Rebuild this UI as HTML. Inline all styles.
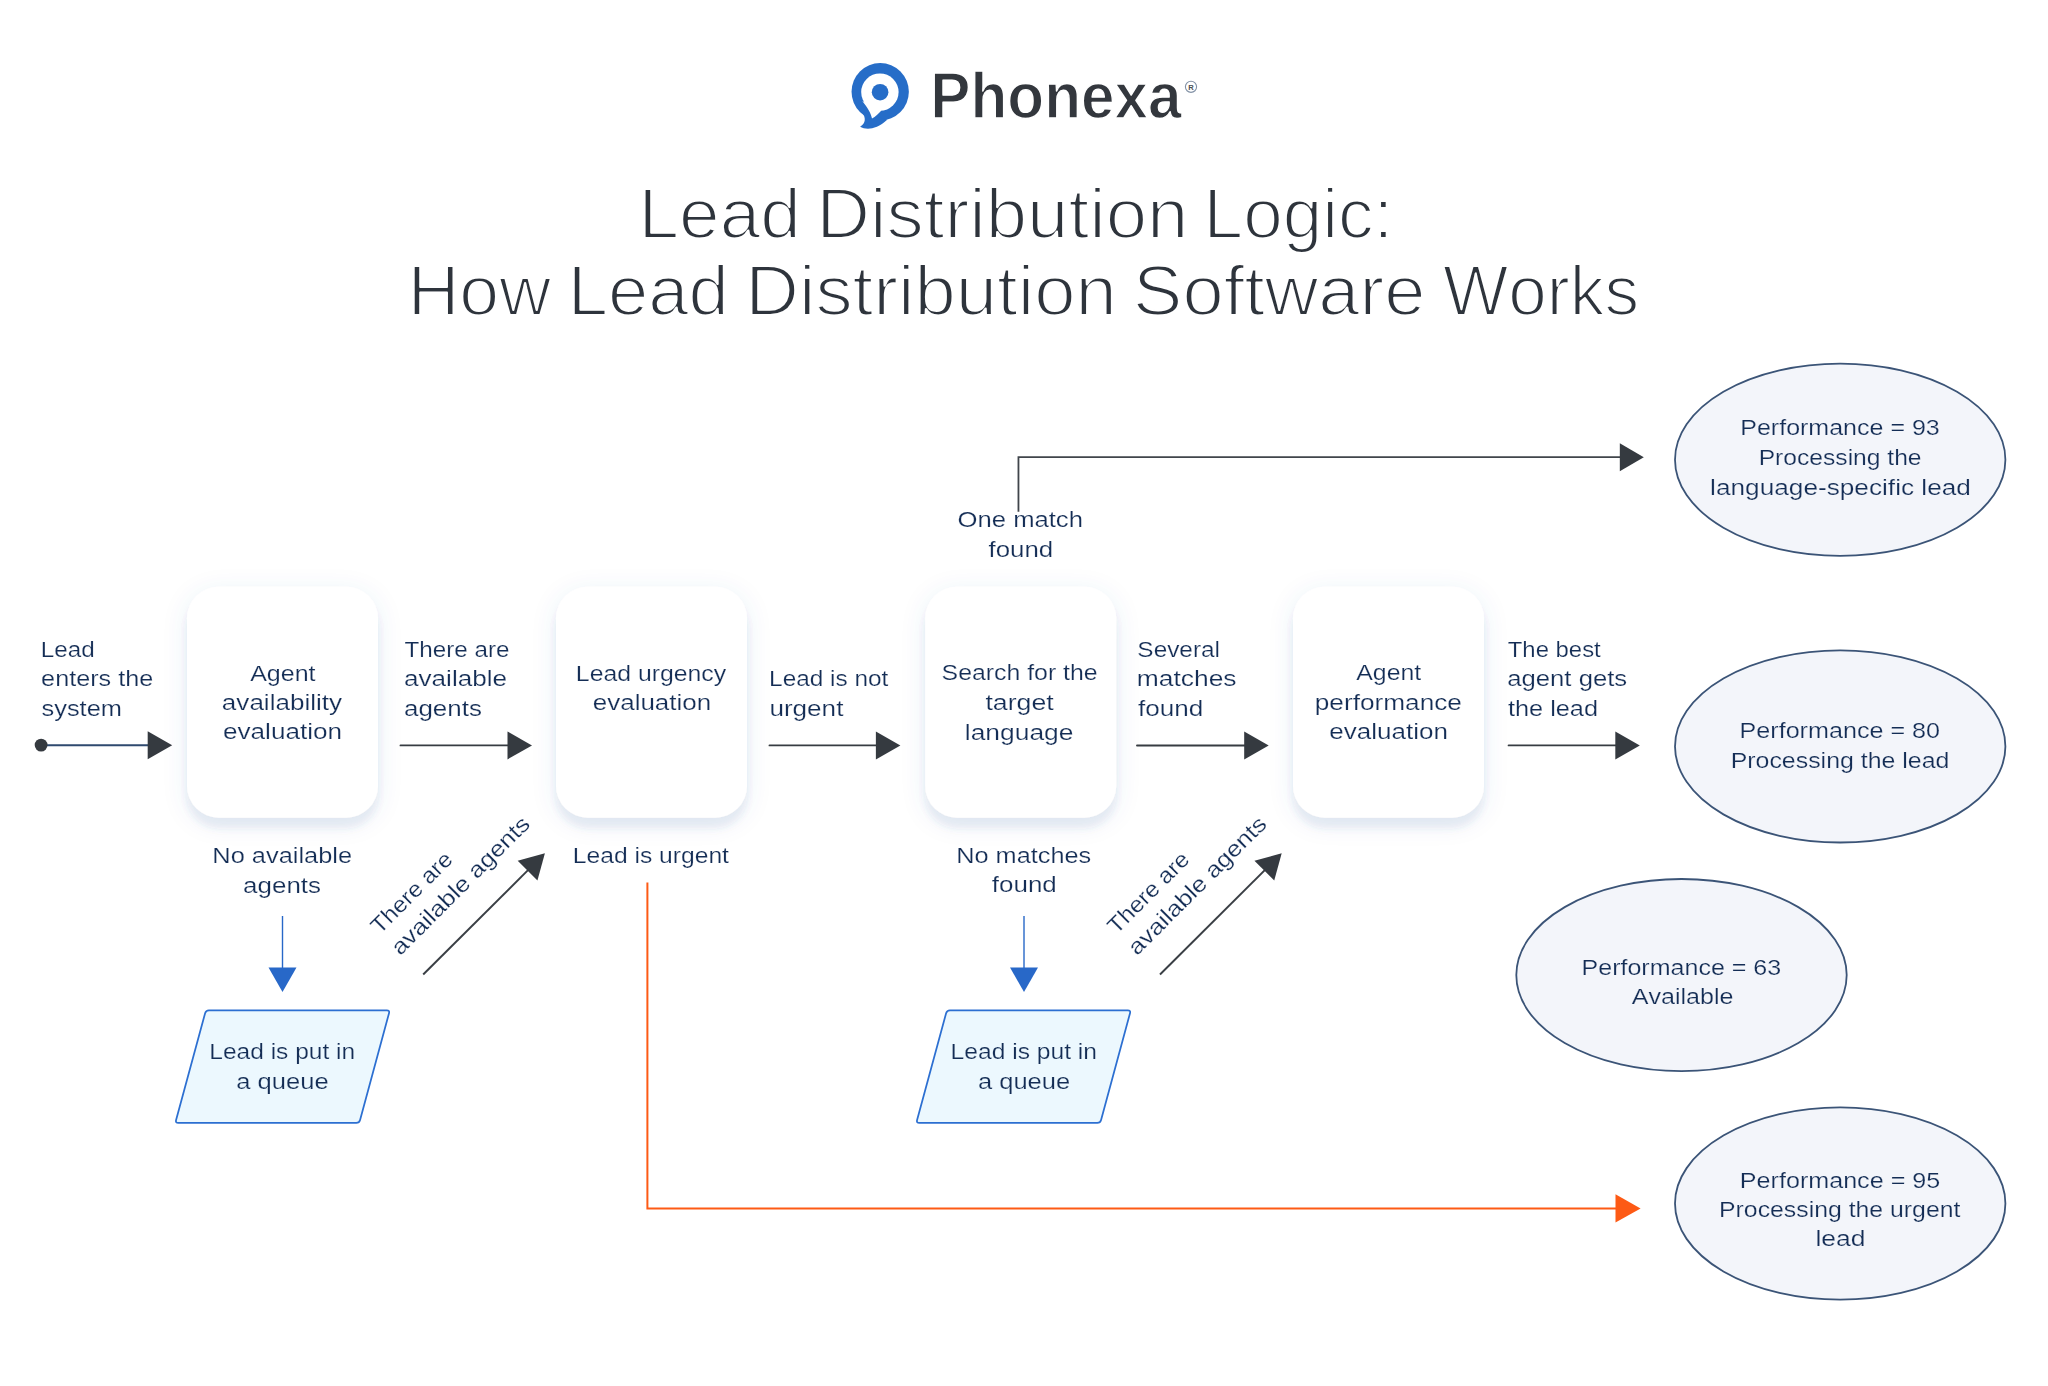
<!DOCTYPE html>
<html><head><meta charset="utf-8"><style>
html,body{margin:0;padding:0;background:#fff;}
svg{display:block;font-family:"Liberation Sans",sans-serif;font-kerning:none;}
</style></head><body>
<svg width="2048" height="1386" viewBox="0 0 2048 1386">
<defs><filter id="sh" x="-50%" y="-50%" width="200%" height="200%">
<feGaussianBlur in="SourceAlpha" stdDeviation="3" result="b1"/>
<feOffset in="b1" dy="11" result="o1"/>
<feFlood flood-color="#3d6aa6" flood-opacity="0.085"/>
<feComposite in2="o1" operator="in" result="s1"/>
<feGaussianBlur in="SourceAlpha" stdDeviation="12" result="b2"/>
<feOffset in="b2" dy="5" result="o2"/>
<feFlood flood-color="#3d6aa6" flood-opacity="0.10"/>
<feComposite in2="o2" operator="in" result="s2"/>
<feMerge><feMergeNode in="s2"/><feMergeNode in="s1"/><feMergeNode in="SourceGraphic"/></feMerge>
</filter></defs>
<rect width="2048" height="1386" fill="#ffffff"/>
<g>
<circle cx="880.2" cy="91.75" r="28.65" fill="#266dc8"/>
<path d="M862,112 C866,118 866,123 860.1,126.7 C866,130 876,130 887.2,119.7 Z" fill="#266dc8"/>
<circle cx="879.9" cy="92.1" r="18.7" fill="#fff"/>
<path d="M862.3,101 C867.5,107.5 871,113 872,118.6 C875.5,117 878.5,113.5 881.5,110.6 Z" fill="#fff"/>
<circle cx="880.1" cy="92.2" r="8.3" fill="#266dc8"/>
<circle cx="1191" cy="86.8" r="5.6" fill="none" stroke="#8392a6" stroke-width="1.1"/>
<text x="1191" y="89.6" font-size="7.6" font-weight="bold" fill="#4a5058" text-anchor="middle">R</text>
</g>
<rect x="187" y="586.7" width="191" height="231" rx="32" ry="32" fill="#ffffff" filter="url(#sh)"/>
<rect x="556" y="586.7" width="191" height="231" rx="32" ry="32" fill="#ffffff" filter="url(#sh)"/>
<rect x="925.2" y="586.7" width="191" height="231" rx="32" ry="32" fill="#ffffff" filter="url(#sh)"/>
<rect x="1293" y="586.7" width="191" height="231" rx="32" ry="32" fill="#ffffff" filter="url(#sh)"/>
<line x1="41" y1="745.3" x2="148.7" y2="745.3" stroke="#2f4a6f" stroke-width="2" stroke-linecap="round"/><polygon points="147.7,731.3 172.2,745.3 147.7,759.3" fill="#353a40"/>
<circle cx="41.1" cy="745.1" r="6.4" fill="#353a40"/>
<line x1="400.5" y1="745.4" x2="508.5" y2="745.4" stroke="#373c42" stroke-width="1.9" stroke-linecap="round"/><polygon points="507.5,731.4 532,745.4 507.5,759.4" fill="#353a40"/>
<line x1="769.5" y1="745.4" x2="876.9" y2="745.4" stroke="#373c42" stroke-width="1.9" stroke-linecap="round"/><polygon points="875.9,731.4 900.4,745.4 875.9,759.4" fill="#353a40"/>
<line x1="1137" y1="745.5" x2="1245.2" y2="745.5" stroke="#373c42" stroke-width="1.9" stroke-linecap="round"/><polygon points="1244.2,731.5 1268.7,745.5 1244.2,759.5" fill="#353a40"/>
<line x1="1508.6" y1="745.4" x2="1616.3" y2="745.4" stroke="#373c42" stroke-width="1.9" stroke-linecap="round"/><polygon points="1615.3,731.4 1639.8,745.4 1615.3,759.4" fill="#353a40"/>
<polyline points="1018.46,511.7 1018.46,457.1 1621,457.1" fill="none" stroke="#40454b" stroke-width="1.8"/>
<polygon points="1619.8,443.3 1643.8,457.2 1619.8,471.2" fill="#353a40"/>
<polyline points="647.4,882.5 647.4,1208.5 1617,1208.5" fill="none" stroke="#fd5a15" stroke-width="2"/>
<polygon points="1615.5,1194.3 1640.6,1208.5 1615.5,1222.6" fill="#fd5a15"/>
<line x1="282.5" y1="916" x2="282.5" y2="969" stroke="#2868c8" stroke-width="1.4"/>
<polygon points="268.5,967.6 296.5,967.6 282.5,991.9" fill="#2868c8"/>
<line x1="1024" y1="916" x2="1024" y2="969" stroke="#2868c8" stroke-width="1.4"/>
<polygon points="1010,967.6 1038,967.6 1024,991.9" fill="#2868c8"/>
<path d="M205.11,1013.20 Q205.90,1010.30 208.90,1010.30 L386.80,1010.30 Q389.80,1010.30 389.02,1013.20 L360.08,1120.00 Q359.30,1122.90 356.30,1122.90 L178.30,1122.90 Q175.30,1122.90 176.09,1120.00 Z" fill="#ecf8fe" stroke="#2c6fd1" stroke-width="1.75"/>
<path d="M946.11,1013.20 Q946.90,1010.30 949.90,1010.30 L1127.80,1010.30 Q1130.80,1010.30 1130.02,1013.20 L1101.08,1120.00 Q1100.30,1122.90 1097.30,1122.90 L919.30,1122.90 Q916.30,1122.90 917.09,1120.00 Z" fill="#ecf8fe" stroke="#2c6fd1" stroke-width="1.75"/>
<line x1="423.2" y1="974.5" x2="528.2488204661583" y2="869.8827687715825" stroke="#3a3f45" stroke-width="2"/>
<polygon points="537.42,880.51 544.9,853.3 517.66,860.67" fill="#353a40"/>
<line x1="1160.0" y1="974.5" x2="1265.0488204661583" y2="869.8827687715826" stroke="#3a3f45" stroke-width="2"/>
<polygon points="1274.22,880.51 1281.6999999999998,853.3 1254.46,860.67" fill="#353a40"/>
<ellipse cx="1840.2" cy="459.7" rx="165.2" ry="96.1" fill="#f3f5fa" stroke="#3b5477" stroke-width="1.8"/>
<ellipse cx="1840.2" cy="746.4" rx="165.2" ry="96.1" fill="#f3f5fa" stroke="#3b5477" stroke-width="1.8"/>
<ellipse cx="1681.5" cy="975.1" rx="165.2" ry="96.1" fill="#f3f5fa" stroke="#3b5477" stroke-width="1.8"/>
<ellipse cx="1840.2" cy="1203.5" rx="165.2" ry="96.1" fill="#f3f5fa" stroke="#3b5477" stroke-width="1.8"/>
<g style="opacity:0.999">
<text x="638.57" y="237.55" font-size="71" fill="#2e343c" font-weight="normal" textLength="162.18" lengthAdjust="spacingAndGlyphs"  stroke="#ffffff" stroke-width="2.1" stroke-linejoin="round">Lead</text>
<text x="816.25" y="237.55" font-size="71" fill="#2e343c" font-weight="normal" textLength="372.24" lengthAdjust="spacingAndGlyphs"  stroke="#ffffff" stroke-width="2.1" stroke-linejoin="round">Distribution</text>
<text x="1203.62" y="237.55" font-size="71" fill="#2e343c" font-weight="normal" textLength="189.62" lengthAdjust="spacingAndGlyphs"  stroke="#ffffff" stroke-width="2.1" stroke-linejoin="round">Logic:</text>
<text x="407.68" y="314.65" font-size="71" fill="#2e343c" font-weight="normal" textLength="143.20" lengthAdjust="spacingAndGlyphs"  stroke="#ffffff" stroke-width="2.1" stroke-linejoin="round">How</text>
<text x="567.81" y="314.65" font-size="71" fill="#2e343c" font-weight="normal" textLength="161.11" lengthAdjust="spacingAndGlyphs"  stroke="#ffffff" stroke-width="2.1" stroke-linejoin="round">Lead</text>
<text x="745.36" y="314.65" font-size="71" fill="#2e343c" font-weight="normal" textLength="371.41" lengthAdjust="spacingAndGlyphs"  stroke="#ffffff" stroke-width="2.1" stroke-linejoin="round">Distribution</text>
<text x="1133.09" y="314.65" font-size="71" fill="#2e343c" font-weight="normal" textLength="292.25" lengthAdjust="spacingAndGlyphs"  stroke="#ffffff" stroke-width="2.1" stroke-linejoin="round">Software</text>
<text x="1443.05" y="314.65" font-size="71" fill="#2e343c" font-weight="normal" textLength="196.00" lengthAdjust="spacingAndGlyphs"  stroke="#ffffff" stroke-width="2.1" stroke-linejoin="round">Works</text>
<text x="930.37" y="117.60" font-size="64.5" fill="#33373d" font-weight="bold" textLength="251.15" lengthAdjust="spacingAndGlyphs"  stroke="#ffffff" stroke-width="1.4" stroke-linejoin="round">Phonexa</text>
<text x="40.76" y="656.90" font-size="22.5" fill="#142d55" font-weight="normal" textLength="53.90" lengthAdjust="spacingAndGlyphs"  stroke="#ffffff" stroke-width="0.2" stroke-linejoin="round">Lead</text>
<text x="41.13" y="686.40" font-size="22.5" fill="#142d55" font-weight="normal" textLength="112.09" lengthAdjust="spacingAndGlyphs"  stroke="#ffffff" stroke-width="0.2" stroke-linejoin="round">enters the</text>
<text x="41.49" y="716.00" font-size="22.5" fill="#142d55" font-weight="normal" textLength="80.48" lengthAdjust="spacingAndGlyphs"  stroke="#ffffff" stroke-width="0.2" stroke-linejoin="round">system</text>
<text x="404.56" y="656.90" font-size="22.5" fill="#142d55" font-weight="normal" textLength="105.02" lengthAdjust="spacingAndGlyphs"  stroke="#ffffff" stroke-width="0.2" stroke-linejoin="round">There are</text>
<text x="403.99" y="686.40" font-size="22.5" fill="#142d55" font-weight="normal" textLength="103.07" lengthAdjust="spacingAndGlyphs"  stroke="#ffffff" stroke-width="0.2" stroke-linejoin="round">available</text>
<text x="404.00" y="716.00" font-size="22.5" fill="#142d55" font-weight="normal" textLength="77.94" lengthAdjust="spacingAndGlyphs"  stroke="#ffffff" stroke-width="0.2" stroke-linejoin="round">agents</text>
<text x="769.10" y="686.30" font-size="22.5" fill="#142d55" font-weight="normal" textLength="119.18" lengthAdjust="spacingAndGlyphs"  stroke="#ffffff" stroke-width="0.2" stroke-linejoin="round">Lead is not</text>
<text x="769.41" y="715.70" font-size="22.5" fill="#142d55" font-weight="normal" textLength="73.99" lengthAdjust="spacingAndGlyphs"  stroke="#ffffff" stroke-width="0.2" stroke-linejoin="round">urgent</text>
<text x="1137.39" y="656.70" font-size="22.5" fill="#142d55" font-weight="normal" textLength="82.64" lengthAdjust="spacingAndGlyphs"  stroke="#ffffff" stroke-width="0.2" stroke-linejoin="round">Several</text>
<text x="1136.75" y="685.90" font-size="22.5" fill="#142d55" font-weight="normal" textLength="99.81" lengthAdjust="spacingAndGlyphs"  stroke="#ffffff" stroke-width="0.2" stroke-linejoin="round">matches</text>
<text x="1138.13" y="715.50" font-size="22.5" fill="#142d55" font-weight="normal" textLength="65.25" lengthAdjust="spacingAndGlyphs"  stroke="#ffffff" stroke-width="0.2" stroke-linejoin="round">found</text>
<text x="1507.76" y="656.70" font-size="22.5" fill="#142d55" font-weight="normal" textLength="93.01" lengthAdjust="spacingAndGlyphs"  stroke="#ffffff" stroke-width="0.2" stroke-linejoin="round">The best</text>
<text x="1507.21" y="686.20" font-size="22.5" fill="#142d55" font-weight="normal" textLength="120.02" lengthAdjust="spacingAndGlyphs"  stroke="#ffffff" stroke-width="0.2" stroke-linejoin="round">agent gets</text>
<text x="1507.92" y="715.60" font-size="22.5" fill="#142d55" font-weight="normal" textLength="90.12" lengthAdjust="spacingAndGlyphs"  stroke="#ffffff" stroke-width="0.2" stroke-linejoin="round">the lead</text>
<text x="250.15" y="680.60" font-size="22.5" fill="#142d55" font-weight="normal" textLength="65.43" lengthAdjust="spacingAndGlyphs"  stroke="#ffffff" stroke-width="0.2" stroke-linejoin="round">Agent</text>
<text x="221.89" y="709.90" font-size="22.5" fill="#142d55" font-weight="normal" textLength="120.16" lengthAdjust="spacingAndGlyphs"  stroke="#ffffff" stroke-width="0.2" stroke-linejoin="round">availability</text>
<text x="222.99" y="739.20" font-size="22.5" fill="#142d55" font-weight="normal" textLength="119.11" lengthAdjust="spacingAndGlyphs"  stroke="#ffffff" stroke-width="0.2" stroke-linejoin="round">evaluation</text>
<text x="575.87" y="680.80" font-size="22.5" fill="#142d55" font-weight="normal" textLength="150.28" lengthAdjust="spacingAndGlyphs"  stroke="#ffffff" stroke-width="0.2" stroke-linejoin="round">Lead urgency</text>
<text x="592.80" y="709.90" font-size="22.5" fill="#142d55" font-weight="normal" textLength="118.39" lengthAdjust="spacingAndGlyphs"  stroke="#ffffff" stroke-width="0.2" stroke-linejoin="round">evaluation</text>
<text x="941.57" y="680.40" font-size="22.5" fill="#142d55" font-weight="normal" textLength="156.03" lengthAdjust="spacingAndGlyphs"  stroke="#ffffff" stroke-width="0.2" stroke-linejoin="round">Search for the</text>
<text x="985.40" y="709.80" font-size="22.5" fill="#142d55" font-weight="normal" textLength="68.30" lengthAdjust="spacingAndGlyphs"  stroke="#ffffff" stroke-width="0.2" stroke-linejoin="round">target</text>
<text x="964.82" y="739.50" font-size="22.5" fill="#142d55" font-weight="normal" textLength="108.65" lengthAdjust="spacingAndGlyphs"  stroke="#ffffff" stroke-width="0.2" stroke-linejoin="round">language</text>
<text x="1356.25" y="680.40" font-size="22.5" fill="#142d55" font-weight="normal" textLength="64.93" lengthAdjust="spacingAndGlyphs"  stroke="#ffffff" stroke-width="0.2" stroke-linejoin="round">Agent</text>
<text x="1314.81" y="709.80" font-size="22.5" fill="#142d55" font-weight="normal" textLength="147.15" lengthAdjust="spacingAndGlyphs"  stroke="#ffffff" stroke-width="0.2" stroke-linejoin="round">performance</text>
<text x="1329.19" y="739.30" font-size="22.5" fill="#142d55" font-weight="normal" textLength="118.70" lengthAdjust="spacingAndGlyphs"  stroke="#ffffff" stroke-width="0.2" stroke-linejoin="round">evaluation</text>
<text x="212.32" y="863.30" font-size="22.5" fill="#142d55" font-weight="normal" textLength="139.71" lengthAdjust="spacingAndGlyphs"  stroke="#ffffff" stroke-width="0.2" stroke-linejoin="round">No available</text>
<text x="243.10" y="892.60" font-size="22.5" fill="#142d55" font-weight="normal" textLength="77.94" lengthAdjust="spacingAndGlyphs"  stroke="#ffffff" stroke-width="0.2" stroke-linejoin="round">agents</text>
<text x="572.78" y="863.30" font-size="22.5" fill="#142d55" font-weight="normal" textLength="156.20" lengthAdjust="spacingAndGlyphs"  stroke="#ffffff" stroke-width="0.2" stroke-linejoin="round">Lead is urgent</text>
<text x="956.22" y="863.20" font-size="22.5" fill="#142d55" font-weight="normal" textLength="134.99" lengthAdjust="spacingAndGlyphs"  stroke="#ffffff" stroke-width="0.2" stroke-linejoin="round">No matches</text>
<text x="991.83" y="892.40" font-size="22.5" fill="#142d55" font-weight="normal" textLength="64.94" lengthAdjust="spacingAndGlyphs"  stroke="#ffffff" stroke-width="0.2" stroke-linejoin="round">found</text>
<text x="957.59" y="527.20" font-size="22.5" fill="#142d55" font-weight="normal" textLength="125.38" lengthAdjust="spacingAndGlyphs"  stroke="#ffffff" stroke-width="0.2" stroke-linejoin="round">One match</text>
<text x="988.53" y="556.60" font-size="22.5" fill="#142d55" font-weight="normal" textLength="64.73" lengthAdjust="spacingAndGlyphs"  stroke="#ffffff" stroke-width="0.2" stroke-linejoin="round">found</text>
<text x="209.39" y="1059.20" font-size="22.5" fill="#142d55" font-weight="normal" textLength="145.70" lengthAdjust="spacingAndGlyphs"  stroke="#ecf8fe" stroke-width="0.2" stroke-linejoin="round">Lead is put in</text>
<text x="236.21" y="1088.60" font-size="22.5" fill="#142d55" font-weight="normal" textLength="92.42" lengthAdjust="spacingAndGlyphs"  stroke="#ecf8fe" stroke-width="0.2" stroke-linejoin="round">a queue</text>
<text x="950.58" y="1059.30" font-size="22.5" fill="#142d55" font-weight="normal" textLength="146.42" lengthAdjust="spacingAndGlyphs"  stroke="#ecf8fe" stroke-width="0.2" stroke-linejoin="round">Lead is put in</text>
<text x="977.92" y="1088.60" font-size="22.5" fill="#142d55" font-weight="normal" textLength="92.32" lengthAdjust="spacingAndGlyphs"  stroke="#ecf8fe" stroke-width="0.2" stroke-linejoin="round">a queue</text>
<text x="1740.25" y="435.20" font-size="22.5" fill="#142d55" font-weight="normal" textLength="199.55" lengthAdjust="spacingAndGlyphs"  stroke="#f3f5fa" stroke-width="0.2" stroke-linejoin="round">Performance = 93</text>
<text x="1758.68" y="464.80" font-size="22.5" fill="#142d55" font-weight="normal" textLength="162.91" lengthAdjust="spacingAndGlyphs"  stroke="#f3f5fa" stroke-width="0.2" stroke-linejoin="round">Processing the</text>
<text x="1710.13" y="494.70" font-size="22.5" fill="#142d55" font-weight="normal" textLength="260.75" lengthAdjust="spacingAndGlyphs"  stroke="#f3f5fa" stroke-width="0.2" stroke-linejoin="round">language-specific lead</text>
<text x="1739.54" y="737.90" font-size="22.5" fill="#142d55" font-weight="normal" textLength="200.54" lengthAdjust="spacingAndGlyphs"  stroke="#f3f5fa" stroke-width="0.2" stroke-linejoin="round">Performance = 80</text>
<text x="1730.66" y="768.00" font-size="22.5" fill="#142d55" font-weight="normal" textLength="218.75" lengthAdjust="spacingAndGlyphs"  stroke="#f3f5fa" stroke-width="0.2" stroke-linejoin="round">Processing the lead</text>
<text x="1581.55" y="974.50" font-size="22.5" fill="#142d55" font-weight="normal" textLength="199.65" lengthAdjust="spacingAndGlyphs"  stroke="#f3f5fa" stroke-width="0.2" stroke-linejoin="round">Performance = 63</text>
<text x="1631.65" y="1003.70" font-size="22.5" fill="#142d55" font-weight="normal" textLength="101.86" lengthAdjust="spacingAndGlyphs"  stroke="#f3f5fa" stroke-width="0.2" stroke-linejoin="round">Available</text>
<text x="1739.84" y="1187.50" font-size="22.5" fill="#142d55" font-weight="normal" textLength="200.42" lengthAdjust="spacingAndGlyphs"  stroke="#f3f5fa" stroke-width="0.2" stroke-linejoin="round">Performance = 95</text>
<text x="1719.07" y="1216.90" font-size="22.5" fill="#142d55" font-weight="normal" textLength="241.32" lengthAdjust="spacingAndGlyphs"  stroke="#f3f5fa" stroke-width="0.2" stroke-linejoin="round">Processing the urgent</text>
<text x="1815.42" y="1245.90" font-size="22.5" fill="#142d55" font-weight="normal" textLength="49.99" lengthAdjust="spacingAndGlyphs"  stroke="#f3f5fa" stroke-width="0.2" stroke-linejoin="round">lead</text>
<text x="379.66" y="934.70" font-size="22.5" fill="#142d55" textLength="105.02" lengthAdjust="spacingAndGlyphs" stroke="#ffffff" stroke-width="0.2" transform="rotate(-45 380.20 934.70)">There are</text>
<text x="399.97" y="955.56" font-size="22.5" fill="#142d55" textLength="185.21" lengthAdjust="spacingAndGlyphs" stroke="#ffffff" stroke-width="0.2" transform="rotate(-45 401.06 955.56)">available agents</text>
<text x="1116.46" y="934.70" font-size="22.5" fill="#142d55" textLength="105.02" lengthAdjust="spacingAndGlyphs" stroke="#ffffff" stroke-width="0.2" transform="rotate(-45 1117.00 934.70)">There are</text>
<text x="1136.77" y="955.56" font-size="22.5" fill="#142d55" textLength="185.21" lengthAdjust="spacingAndGlyphs" stroke="#ffffff" stroke-width="0.2" transform="rotate(-45 1137.86 955.56)">available agents</text>
</g>
</svg></body></html>
